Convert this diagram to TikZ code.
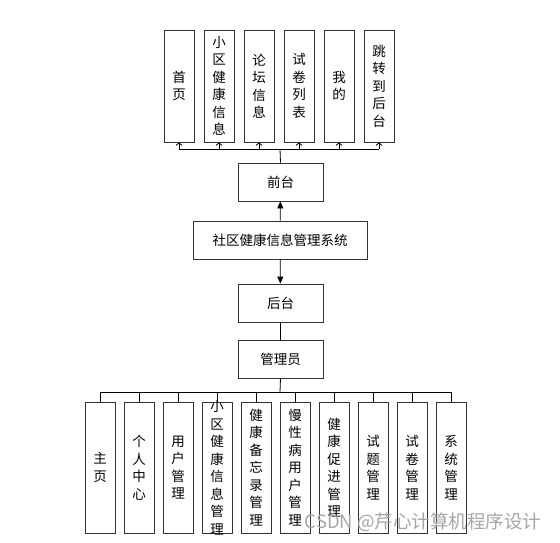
\documentclass[tikz,border=0pt]{standalone}
\usepackage{fontspec}
\setmainfont{Noto Sans CJK SC}
\usetikzlibrary{arrows.meta}
\tikzset{
	box/.style={draw=black!80, fill=white, line width=0.8pt, minimum width=85pt, minimum height=38pt, inner sep=0pt, font=\fontsize{13.5}{16}\selectfont},
	vbox/.style={draw=black!80, fill=white, line width=0.8pt, minimum width=30pt, inner sep=0pt},
	vtext/.style={align=center, inner sep=0pt, font=\fontsize{13.5}{17.5}\selectfont},
	link/.style={line width=0.8pt},
	uparrow/.style={link, -{Straight Barb[length=2.5pt,width=6pt]}},
	mainarrow/.style={link, -{Triangle[length=7pt,width=6pt]}},
}

\begin{document}
\begin{tikzpicture}[x=1pt,y=-1pt]
		%%%%% START %%%%%
		\useasboundingbox (0,0) rectangle (560,542);
		
		% front end pages
		\foreach \x/\t [count=\n] in {179/{首\\页}, 219/{小\\区\\健\\康\\信\\息}, 259/{论\\坛\\信\\息}, 299/{试\\卷\\列\\表}, 339/{我\\的}, 379/{跳\\转\\到\\后\\台}} {
			\node[vbox, minimum height=112pt] (f\n) at (\x,86) {};
			\node[vtext] at (f\n) {\t};
		}
		
		\node[box] (front) at (280.5,182) {前台};
		\node[box, minimum width=174pt] (sys) at (280,240) {社区健康信息管理系统};
		\node[box] (back) at (280.5,303) {后台};
		\node[box] (admin) at (280.5,359) {管理员};
		
		\coordinate (fb) at (280,149);
		\draw[link] (front.north) -- (fb);
		\draw[link] (fb -| f1) -- (fb -| f6);
		\foreach \n in {1,...,6}
			\draw[uparrow] (fb -| f\n) -- (f\n.south);
		
		\draw[mainarrow] (sys) -- (front);
		\draw[mainarrow] (sys) -- (back);
		\draw[link] (back) -- (admin);
		
		% admin modules
		\foreach \t [count=\n] in {{主\\页}, {个\\人\\中\\心}, {用\\户\\管\\理}, {小\\区\\健\\康\\信\\息\\管\\理}, {健\\康\\备\\忘\\录\\管\\理}, {慢\\性\\病\\用\\户\\管\\理}, {健\\康\\促\\进\\管\\理}, {试\\题\\管\\理}, {试\\卷\\管\\理}, {系\\统\\管\\理}} {
			\node[vbox, minimum height=131pt] (m\n) at ({100+39*(\n-1)},467.5) {};
			\node[vtext] at (m\n) {\t};
		}
		
		\coordinate (ab) at (280,392);
		\draw[link] (admin.south) -- (ab);
		\draw[link] (ab -| m1) -- (ab -| m10);
		\foreach \n in {1,...,10}
			\draw[link] (ab -| m\n) -- (m\n.north);
		
		\node[black!35, font=\fontsize{18.5}{18.5}\selectfont] (mark) at (423,522) {CSDN @芹心计算机程序设计};
		%%%%% END %%%%%
\end{tikzpicture}
\end{document}
